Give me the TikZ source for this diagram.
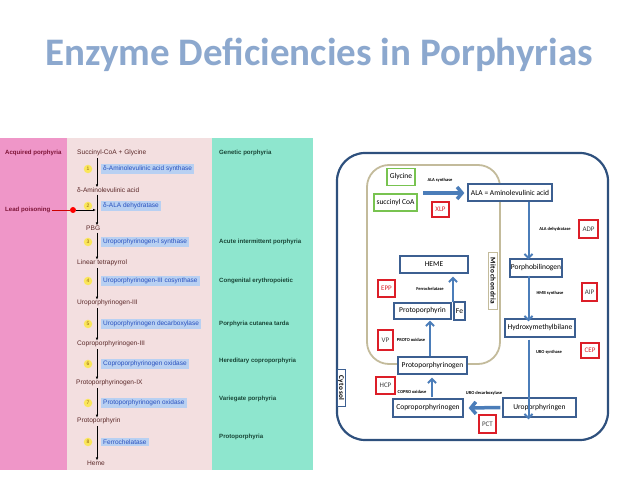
\documentclass[tikz,border=0pt]{standalone}
\usepackage{fontspec}
\usepackage{tikz}
\usetikzlibrary{arrows.meta}
\setmainfont{Carlito}
\newfontfamily\arialf{Liberation Sans}
\newfontfamily\spacedf[LetterSpace=8]{Carlito}

\definecolor{pinkcol}{RGB}{239,150,200}
\definecolor{rosecol}{RGB}{243,223,224}
\definecolor{tealcol}{RGB}{142,230,206}
\definecolor{enzbg}{RGB}{184,208,242}
\definecolor{enztx}{RGB}{40,80,190}
\definecolor{mettx}{RGB}{90,40,40}
\definecolor{distx}{RGB}{25,70,55}
\definecolor{acqtx}{RGB}{125,20,55}
\definecolor{numfill}{RGB}{250,230,90}
\definecolor{numtx}{RGB}{150,100,20}
\definecolor{cytblue}{RGB}{46,80,125}
\definecolor{boxblue}{RGB}{60,95,145}
\definecolor{mitotan}{RGB}{195,187,155}
\definecolor{arrblue}{RGB}{75,125,185}
\definecolor{redbx}{RGB}{220,30,40}
\definecolor{grnbx}{RGB}{120,195,80}
\definecolor{titleblue}{RGB}{140,168,206}

\begin{document}
\begin{tikzpicture}[x=1pt, y=-1pt,
  met/.style={anchor=west, inner sep=0pt, text=mettx, font=\arialf\fontsize{6.6}{7}\selectfont},
  enz/.style={anchor=west, fill=enzbg, text=enztx, inner xsep=2pt, inner ysep=1.7pt, font=\arialf\fontsize{6.5}{7}\selectfont},
  num/.style={circle, fill=numfill, text=numtx, inner sep=0pt, minimum size=8.5pt, font=\arialf\fontsize{5}{5}\selectfont},
  dis/.style={anchor=west, inner sep=0pt, text=distx, font=\arialf\bfseries\fontsize{6.1}{7}\selectfont},
  bx/.style={draw=boxblue, line width=1.3pt, fill=white, inner sep=1pt, minimum height=17pt, font=\fontsize{7.5}{8}\selectfont},
  rbx/.style={draw=redbx, line width=1.3pt, fill=white, inner sep=1pt, text=black!75, minimum height=16pt, font=\fontsize{7}{8}\selectfont},
  gbx/.style={draw=grnbx, line width=1.1pt, fill=white, inner sep=1pt, minimum height=17pt, font=\fontsize{7.5}{8}\selectfont},
  lbl/.style={inner sep=0pt, font=\bfseries\fontsize{4.5}{5}\selectfont},
  tag/.style={fill=white, rotate=-90, inner sep=0pt, font=\spacedf\bfseries\fontsize{7.2}{7}\selectfont},
  flow/.style={draw=arrblue, line width=2pt, -{Straight Barb[length=4pt,width=8pt]}},
  bigflow/.style={draw=arrblue, line width=3.5pt, -{Straight Barb[length=5pt,width=12pt]}},
  path/.style={draw=black, line width=0.6pt, -{Latex[length=3pt,width=2.5pt]}}]
  \useasboundingbox (0,0) rectangle (638,478);
  \node[anchor=base, text=titleblue, font=\bfseries\fontsize{39}{44}\selectfont] (title) at (319,66)
    {Enzyme Deficiencies in Porphyrias};

  % left panel
  \fill[pinkcol] (0,138) rectangle (67,470);
  \fill[rosecol] (67,138) rectangle (212,470);
  \fill[tealcol] (212,138) rectangle (313,470);
  \node[anchor=west, inner sep=0pt, text=acqtx, font=\arialf\bfseries\fontsize{6.1}{7}\selectfont] (acq) at (5,153) {Acquired porphyria};
  \node[dis] (gen) at (219,153) {Genetic porphyria};
  \foreach \n/\x/\y/\t in {0/77/152.7/Succinyl-CoA + Glycine, 1/77/190/δ-Aminolevulinic acid,
      2/86/228/PBG, 3/77/263/Linear tetrapyrrol, 4/77/303/Uroporphyrinogen-III,
      5/77/344/Coproporphyrinogen-III, 6/76/383/Protoporphyrinogen-IX,
      7/77/421/Protoporphyrin, 8/87/463/Heme}
    \node[met] (m\n) at (\x,\y) {\t};
  \foreach \n/\y/\t in {1/169/δ-Aminolevulinic acid synthase, 2/206/δ-ALA dehydratase,
      3/242/Uroporphyrinogen-I synthase, 4/281/Uroporphyrinogen-III cosynthase,
      5/324/Uroporphyrinogen decarboxylase, 6/364/Coproporphyrinogen oxidase,
      7/403/Protoporphyrinogen oxidase, 8/442/Ferrochelatase} {
    \node[num] (n\n) at (88,\y) {\n};
    \node[enz] (e\n) at (101,\y) {\t};
  }
  \coordinate (ax) at (97,0);
  \foreach \i/\j in {0/1,1/2,2/3,3/4,4/5,5/6,6/7,7/8}
    \draw[path] (m\i.south -| ax) ++(0,2) -- (m\j.north -| ax);
  \foreach \y/\t in {242/Acute intermittent porphyria, 281/Congenital erythropoietic,
      324/Porphyria cutanea tarda, 361/Hereditary coproporphyria,
      399/Variegate porphyria, 437/Protoporphyria}
    \node[dis] at (219,\y) {\t};
  % lead
  \node[anchor=west, inner sep=0pt, text=acqtx, font=\arialf\bfseries\fontsize{6.1}{7}\selectfont] (lead) at (5,210) {Lead poisoning};
  \node[circle, fill=red, inner sep=0pt, minimum size=6pt] (pb) at (73,210) {};
  \coordinate (pbend) at (96,210);
  \draw[red!80!black, line width=0.7pt] (lead.east) ++(2,0) -- (pb);
  \draw[path] (pb) -- (pbend);

  % right panel
  \draw[cytblue, line width=2.2pt, rounded corners=28pt] (337,153) rectangle (608,440);
  \draw[mitotan, line width=1.8pt, rounded corners=22pt] (367,165) rectangle (500,364);
  \node[tag, draw=mitotan, line width=0.8pt, minimum width=57pt, minimum height=9pt] (mito) at (493,281) {Mitochondria};
  \node[tag, draw=boxblue, line width=1pt, minimum width=37pt, minimum height=8pt] (cyto) at (341,388) {Cytosol};

  \node[gbx, minimum width=28pt] (gly) at (401,177) {Glycine};
  \node[gbx, minimum width=43pt] (succ) at (395.5,202.5) {succinyl CoA};
  \node[bx, minimum width=84pt] (ala) at (510,192.5) {ALA = Aminolevulinic acid};
  \node[bx, minimum width=48pt, minimum height=18pt] (pbg) at (536,268) {Porphobilinogen};
  \node[bx, minimum width=70pt, minimum height=18pt] (hmb) at (540,328) {Hydroxymethylbilane};
  \node[bx, minimum width=73pt, minimum height=19pt] (uro) at (539.5,407.5) {Uroporphyringen};
  \node[bx, minimum width=70pt, minimum height=18pt] (copro) at (428,408) {Coproporphyrinogen};
  \node[bx, minimum width=69pt] (protogen) at (432.5,365.5) {Protoporphyrinogen};
  \node[bx, minimum width=57pt, minimum height=16pt] (proto) at (422.5,311) {Protoporphyrin};
  \node[bx, minimum width=68pt] (heme) at (434,264.5) {HEME};
  \node[bx, minimum width=11pt, minimum height=18pt] (fe) at (459.5,311) {Fe};

  \node[rbx, text=redbx, minimum width=17pt, minimum height=15pt] (xlp) at (440.5,209.5) {XLP};
  \node[rbx, minimum width=19pt, minimum height=18pt] (adp) at (588.5,229) {ADP};
  \node[rbx, minimum width=15pt, minimum height=18pt] (aip) at (589.5,292) {AIP};
  \node[rbx, text=redbx, minimum width=18pt, minimum height=15pt] (cep) at (590,350.5) {CEP};
  \node[rbx, minimum width=17pt, minimum height=18pt] (pct) at (487.5,424) {PCT};
  \node[rbx, minimum width=19pt, minimum height=17pt] (hcp) at (385.5,385.5) {HCP};
  \node[rbx, minimum width=15pt, minimum height=20pt] (vp) at (385.5,340) {VP};
  \node[rbx, text=redbx, minimum width=17pt, minimum height=17pt] (epp) at (386.5,288.5) {EPP};

  \node[lbl] (l1) at (440,180) {ALA synthase};
  \node[lbl] (l2) at (555,229) {ALA dehydratase};
  \node[lbl] (l3) at (550,293) {HMB synthase};
  \node[lbl] (l4) at (549,352) {URO synthase};
  \node[lbl] (l5) at (484,393) {URO decarboxylase};
  \node[lbl] (l6) at (412,392) {COPRO oxidase};
  \node[lbl] (l7) at (411,340) {PROTO oxidase};
  \node[lbl] (l8) at (430,289) {Ferrochelatase};

  \coordinate (synstart) at (423,193);
  \coordinate (cx) at (528.5,0);
  \draw[bigflow] (synstart) -- ([xshift=-3pt]synstart -| ala.west);
  \draw[flow] (ala.south -| cx) -- ([yshift=-1pt]pbg.north -| cx);
  \draw[flow] ([yshift=2pt]pbg.south -| cx) -- ([yshift=-3pt]hmb.north -| cx);
  \draw[flow] (hmb.south -| cx) ++(0,2) -- ([yshift=-22pt]uro.north -| cx);
  \draw[bigflow] (uro.west) ++(-2,0) -- ([xshift=5pt]copro.east);
  \draw[flow] (copro.north -| 432,0) ++(0,-1) -- ([yshift=-3pt]protogen.south -| 432,0);
  \draw[flow] (protogen.north -| 430,0) -- ([yshift=-1pt]proto.south -| 430,0);
  \draw[flow] (proto.north -| 453,0) -- ([yshift=-3pt]heme.south -| 453,0);
\end{tikzpicture}
\end{document}
